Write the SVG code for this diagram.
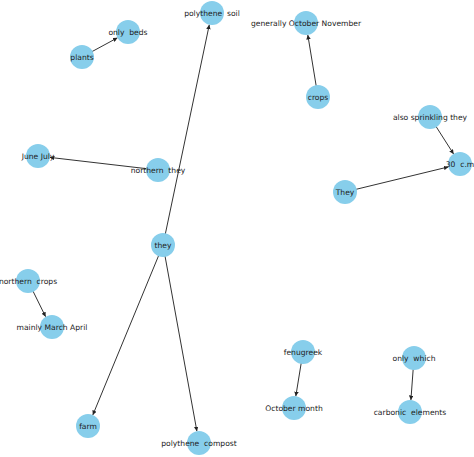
<svg xmlns="http://www.w3.org/2000/svg" width="474" height="457" viewBox="0 0 474 457">
<defs>
<marker id="ah" viewBox="0 0 10 10" refX="10" refY="5" markerWidth="4.5" markerHeight="4.5" markerUnits="userSpaceOnUse" orient="auto">
<path d="M0,0 L10,5 L0,10 z" fill="#222"/>
</marker>
<style>
.n circle{fill:#87CEEB;}
.n text{font-family:"DejaVu Sans",sans-serif;font-size:7.6px;fill:#222;text-anchor:middle;dominant-baseline:central;white-space:pre;}
#edges line{stroke:#333;stroke-width:1;marker-end:url(#ah);}
</style>
</defs>
<rect width="474" height="457" fill="#fff"/>
<g id="edges">
<line x1="82" y1="57" x2="117.5" y2="37.8"/>
<line x1="163" y1="245" x2="209.3" y2="24.7"/>
<line x1="318" y1="97" x2="307.8" y2="34.9"/>
<line x1="430" y1="117" x2="453.6" y2="154"/>
<line x1="345" y1="192" x2="448.4" y2="166.9"/>
<line x1="158" y1="170" x2="49.9" y2="157.4"/>
<line x1="28" y1="281" x2="45.6" y2="316.7"/>
<line x1="163" y1="245" x2="92.8" y2="415"/>
<line x1="163" y1="245" x2="196.9" y2="431.2"/>
<line x1="303" y1="352" x2="295.8" y2="396.2"/>
<line x1="414" y1="358" x2="410.9" y2="400"/>
</g>
<g id="n-only-beds" class="n"><circle cx="128" cy="32" r="12"/><text x="128" y="32">only  beds</text></g>
<g id="n-plants" class="n"><circle cx="82" cy="57" r="12"/><text x="82" y="57">plants</text></g>
<g id="n-polythene-soil" class="n"><circle cx="212" cy="13" r="12"/><text x="212" y="13">polythene  soil</text></g>
<g id="n-generally-october-november" class="n"><circle cx="306" cy="23" r="12"/><text x="306" y="23">generally October November</text></g>
<g id="n-crops" class="n"><circle cx="318" cy="97" r="12"/><text x="318" y="97">crops</text></g>
<g id="n-also-sprinkling-they" class="n"><circle cx="430" cy="117" r="12"/><text x="430" y="117">also sprinkling they</text></g>
<g id="n-30-cm" class="n"><circle cx="460" cy="164" r="12"/><text x="460" y="164">30  c.m</text></g>
<g id="n-They" class="n"><circle cx="345" cy="192" r="12"/><text x="345" y="192">They</text></g>
<g id="n-june-july" class="n"><circle cx="38" cy="156" r="12"/><text x="38" y="156">June July</text></g>
<g id="n-northern-they" class="n"><circle cx="158" cy="170" r="12"/><text x="158" y="170">northern  they</text></g>
<g id="n-they" class="n"><circle cx="163" cy="245" r="12"/><text x="163" y="245">they</text></g>
<g id="n-northern-crops" class="n"><circle cx="28" cy="281" r="12"/><text x="28" y="281">northern  crops</text></g>
<g id="n-mainly-march-april" class="n"><circle cx="52" cy="327" r="12"/><text x="52" y="327">mainly March April</text></g>
<g id="n-farm" class="n"><circle cx="88" cy="426" r="12"/><text x="88" y="426">farm</text></g>
<g id="n-polythene-compost" class="n"><circle cx="199" cy="443" r="12"/><text x="199" y="443">polythene  compost</text></g>
<g id="n-fenugreek" class="n"><circle cx="303" cy="352" r="12"/><text x="303" y="352">fenugreek</text></g>
<g id="n-october-month" class="n"><circle cx="294" cy="408" r="12"/><text x="294" y="408">October month</text></g>
<g id="n-only-which" class="n"><circle cx="414" cy="358" r="12"/><text x="414" y="358">only  which</text></g>
<g id="n-carbonic-elements" class="n"><circle cx="410" cy="412" r="12"/><text x="410" y="412">carbonic  elements</text></g>
</svg>
